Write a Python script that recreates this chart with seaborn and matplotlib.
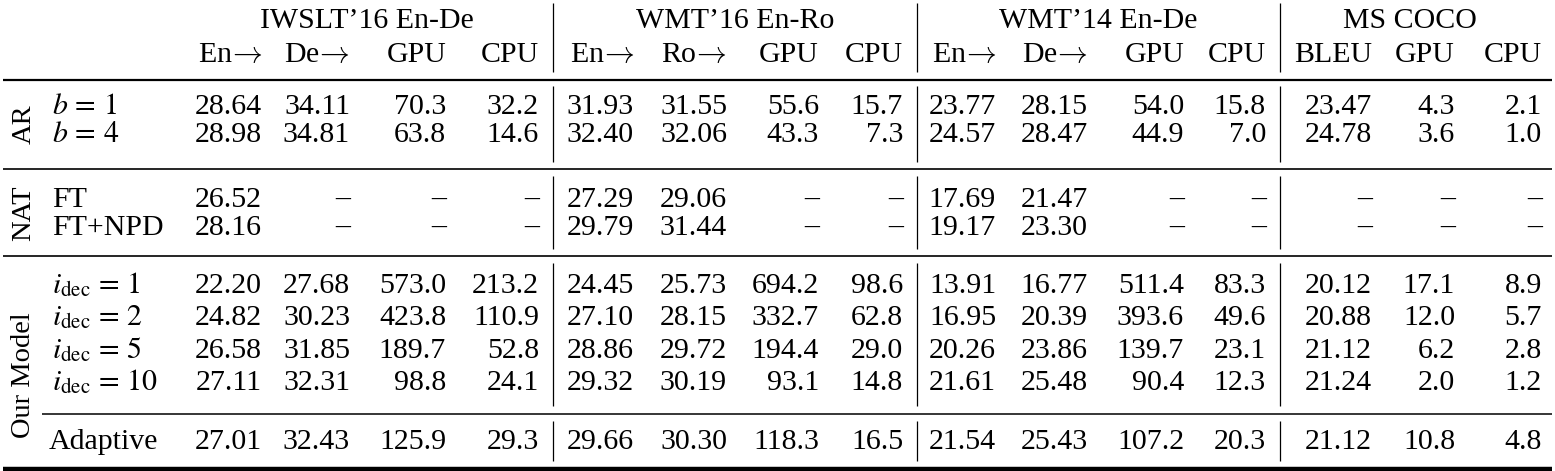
"""
Results table: AR / NAT / adaptive decoding across four benchmarks.
Drawn as text on a blank seaborn-styled axes.
"""

import numpy as np
import pandas as pd
import matplotlib

matplotlib.use("Agg")
import matplotlib.pyplot as plt
import seaborn as sns

# -----------------------------
# Data
# -----------------------------

nan = np.nan

groups = ["AR", "NAT", "Our Model"]
row_labels = [
    r"$b\,=\,1$",
    r"$b\,=\,4$",
    "FT",
    "FT+NPD",
    r"$i_{\mathrm{dec}}\,=\,1$",
    r"$i_{\mathrm{dec}}\,=\,2$",
    r"$i_{\mathrm{dec}}\,=\,5$",
    r"$i_{\mathrm{dec}}\,=\,10$",
    "Adaptive",
]
datasets = ["IWSLT\u201916 En-De", "WMT\u201916 En-Ro", "WMT\u201914 En-De", "MS COCO"]
col_headers = [
    [r"En$\!\rightarrow\!$", r"De$\!\rightarrow\!$", "GPU", "CPU"],
    [r"En$\!\rightarrow\!$", r"Ro$\!\rightarrow\!$", "GPU", "CPU"],
    [r"En$\!\rightarrow\!$", r"De$\!\rightarrow\!$", "GPU", "CPU"],
    ["BLEU", "GPU", "CPU"],
]

iwslt_en = [28.64, 28.98, 26.52, 28.16, 22.20, 24.82, 26.58, 27.11, 27.01]
iwslt_de = [34.11, 34.81, nan, nan, 27.68, 30.23, 31.85, 32.31, 32.43]
iwslt_gpu = [70.3, 63.8, nan, nan, 573.0, 423.8, 189.7, 98.8, 125.9]
iwslt_cpu = [32.2, 14.6, nan, nan, 213.2, 110.9, 52.8, 24.1, 29.3]

wmt16_en = [31.93, 32.40, 27.29, 29.79, 24.45, 27.10, 28.86, 29.32, 29.66]
wmt16_ro = [31.55, 32.06, 29.06, 31.44, 25.73, 28.15, 29.72, 30.19, 30.30]
wmt16_gpu = [55.6, 43.3, nan, nan, 694.2, 332.7, 194.4, 93.1, 118.3]
wmt16_cpu = [15.7, 7.3, nan, nan, 98.6, 62.8, 29.0, 14.8, 16.5]

wmt14_en = [23.77, 24.57, 17.69, 19.17, 13.91, 16.95, 20.26, 21.61, 21.54]
wmt14_de = [28.15, 28.47, 21.47, 23.30, 16.77, 20.39, 23.86, 25.48, 25.43]
wmt14_gpu = [54.0, 44.9, nan, nan, 511.4, 393.6, 139.7, 90.4, 107.2]
wmt14_cpu = [15.8, 7.0, nan, nan, 83.3, 49.6, 23.1, 12.3, 20.3]

coco_bleu = [23.47, 24.78, nan, nan, 20.12, 20.88, 21.12, 21.24, 21.12]
coco_gpu = [4.3, 3.6, nan, nan, 17.1, 12.0, 6.2, 2.0, 10.8]
coco_cpu = [2.1, 1.0, nan, nan, 8.9, 5.7, 2.8, 1.2, 4.8]

columns = [
    [iwslt_en, iwslt_de, iwslt_gpu, iwslt_cpu],
    [wmt16_en, wmt16_ro, wmt16_gpu, wmt16_cpu],
    [wmt14_en, wmt14_de, wmt14_gpu, wmt14_cpu],
    [coco_bleu, coco_gpu, coco_cpu],
]
# BLEU columns get two decimals, speed-ups one
decimals = [[2, 2, 1, 1], [2, 2, 1, 1], [2, 2, 1, 1], [2, 1, 1]]

# -----------------------------
# Layout (pixels, figure is 1555 x 471)
# -----------------------------

W, H = 1555, 471
FONT_SIZE = 21.5

col_right = [
    [262, 350, 446, 539],
    [634, 727, 819, 903],
    [996, 1088, 1184, 1266],
    [1372, 1455, 1542],
]
header_center = [367, 735, 1098, 1410]
separators = [553, 917, 1280]
sep_segments = [(3, 72), (86, 162), (176, 249), (263, 406), (421, 461)]

header1_y = 28
header2_y = 62
row_y = [114, 142, 207, 235, 293, 325, 358, 390, 449]
group_label_y = [124, 213, 375]
group_label_x = 24
label_x = 52

sns.set_theme(style="white")
plt.rcParams["font.family"] = ["Liberation Serif", "DejaVu Serif"]
plt.rcParams["mathtext.fontset"] = "stix"

fig = plt.figure(figsize=(W / 100, H / 100), dpi=100)
ax = fig.add_axes([0, 0, 1, 1])
ax.set_xlim(0, W)
ax.set_ylim(H, 0)
ax.axis("off")

text_kw = dict(fontsize=FONT_SIZE, color="black", va="baseline")

# Dataset headers and column headers (LaTeX-style long arrows from cm)
for g, name in enumerate(datasets):
    ax.text(header_center[g], header1_y, name, ha="center", **text_kw)
    for c, head in enumerate(col_headers[g]):
        ax.text(col_right[g][c], header2_y, head, ha="right",
                math_fontfamily="cm", **text_kw)

# Body values
for g, group_cols in enumerate(columns):
    df = pd.DataFrame({i: vals for i, vals in enumerate(group_cols)})
    for c in df.columns:
        for r, val in enumerate(df[c]):
            s = "\u2013" if pd.isna(val) else f"{val:.{decimals[g][c]}f}"
            ax.text(col_right[g][c], row_y[r], s, ha="right", **text_kw)

# Row labels
for r, lab in enumerate(row_labels):
    x = label_x - 3 if lab == "Adaptive" else label_x
    ax.text(x, row_y[r], lab, ha="left", **text_kw)

# Rotated group labels
for name, y in zip(groups, group_label_y):
    ax.text(group_label_x, y, name, rotation=90, ha="center", va="center",
            fontsize=FONT_SIZE - 1, color="black")

# Rules (booktabs style)
ax.hlines(80, 3, 1552, color="black", lw=1.6)
ax.hlines([168.5, 256], 3, 1552, color="black", lw=1.2)
ax.hlines(414, 42, 1552, color="black", lw=1.1)
ax.hlines(468.5, 3, 1552, color="black", lw=3.2)

# Vertical separators with gaps at the rules
for x in separators:
    for y0, y1 in sep_segments:
        ax.vlines(x, y0, y1, color="black", lw=0.9)

fig.savefig("out.png", dpi=100)
plt.close(fig)
